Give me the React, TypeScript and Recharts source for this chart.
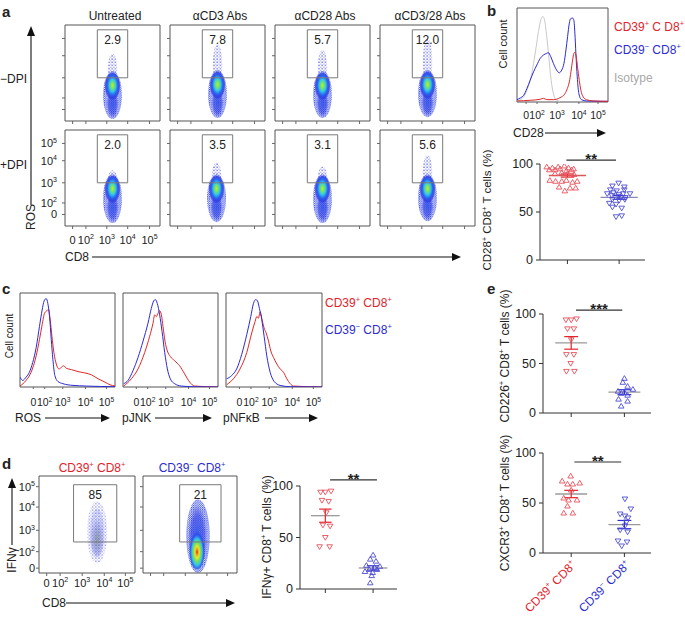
import React from 'react';
import { ComposedChart, ScatterChart, Scatter, Line, XAxis, YAxis, ReferenceArea, ReferenceLine } from 'recharts';

// ---------------- DATA ----------------
// Panel a
const aColumns = ['Untreated', 'αCD3 Abs', 'αCD28 Abs', 'αCD3/28 Abs'];
const aGateValues = ['2.9', '7.8', '5.7', '12.0', '2.0', '3.5', '3.1', '5.6'];
const flowTickLabels = ['0', '10^2', '10^3', '10^4', '10^5'];
const aXTicks = [8, 22, 44, 66, 89];
const aYTicks = [12, 24, 45, 68, 86];
const aGate = [34, 66, 45, 95];
const aCloudCenterX = [50, 50, 50, 50, 50, 49, 50, 50];
const aCloudCoreY = [37, 38, 37, 38, 39, 39, 39, 39];
const aCloudTop = [70, 80, 74, 86, 58, 66, 62, 74];
const aCloudBottom = [2, 3, 3, 4, 3, 4, 3, 5];

// Panel b histogram (x in display units 0-100, y = % of max)
const bHistTicks = [10, 22, 44, 68, 89];
const bIsotype: [number, number][] = [[0, 1.1], [7.3, 5.4], [10.9, 12.5], [14.5, 23.2], [18.2, 41.1], [21.1, 58.9], [23.6, 75], [26.2, 87.5], [28.4, 91], [30.2, 87.5], [32.7, 69.6], [35.3, 44.6], [37.5, 23.2], [40, 8.9], [42.9, 2.5], [47.3, 0.7]];
const bNeg: [number, number][] = [[0, 2.5], [3.6, 4.3], [7.3, 7.1], [10.9, 14.3], [14.5, 23.2], [18.2, 32.1], [21.8, 39.3], [25.5, 46.4], [29.1, 50], [32.7, 51.8], [34.5, 52.5], [37.1, 48.2], [40, 41.1], [43.6, 33.9], [46.5, 31.1], [49.1, 33.9], [51.6, 41.1], [53.8, 55.4], [55.6, 69.6], [57.5, 83.9], [58.9, 88.6], [61.1, 89.3], [62.5, 86.8], [63.6, 73.2], [64.7, 51.8], [66.2, 26.8], [68, 8.9], [70.9, 2.5], [76.4, 1.1], [100, 0.7]];
const bPos: [number, number][] = [[0, 1.1], [14.5, 1.8], [25.5, 2.9], [29.1, 3.9], [32.7, 2.5], [40, 2.5], [47.3, 4.6], [52.7, 8.9], [55.3, 14.3], [57.5, 21.4], [59.3, 32.1], [61.1, 44.6], [62.5, 51.8], [63.6, 52.9], [65.1, 48.2], [66.5, 37.5], [68.4, 23.2], [70.2, 12.5], [72.7, 5.4], [76.4, 2.5], [83.6, 1.1], [100, 0.7]];

// Panel b dot plot (CD28+ % of CD8+)
const bPosValues = [97, 96, 97, 98, 96, 95, 94, 94, 95, 93, 94, 90, 91, 90, 89, 83, 82, 82, 83, 81, 82, 76, 72, 75, 75];
const bPosJitter = [-0.40, -0.29, -0.18, -0.06, 0.02, 0.12, -0.35, -0.24, -0.14, -0.02, 0.08, -0.24, -0.11, 0, 0.13, -0.34, -0.23, -0.11, -0.02, 0.1, 0.19, -0.16, -0.05, 0.05, 0.16];
const bNegValues = [80, 77, 76, 73, 72, 73, 69, 70, 68, 69, 69, 67, 66, 65, 63, 62, 63, 59, 58, 55, 54, 45, 46];
const bNegJitter = [-0.01, -0.13, 0.10, -0.17, -0.05, 0.10, -0.23, -0.11, -0.01, 0.08, 0.21, -0.14, -0.01, 0.12, -0.13, 0, 0.11, -0.19, -0.06, -0.13, 0.05, -0.06, 0.05];

// Panel c histograms
const cTicks = [14, 26, 45, 69, 91];
const cRosNeg: [number, number][] = [[0, 10.5], [2.8, 7], [6.4, 10.5], [9.9, 15.7], [13.4, 26.1], [17, 41.8], [20.5, 64.5], [23.3, 81.9], [25.4, 91.6], [27.6, 94.1], [29.3, 88.9], [31.1, 74.9], [32.9, 50.5], [34.6, 29.6], [36.7, 12.2], [39.9, 5.9], [45.2, 3.5], [55.8, 1.7], [70, 1], [100, 0.3]];
const cRosPos: [number, number][] = [[0, 1], [6.4, 7], [11.7, 15.7], [17, 33.1], [20.5, 50.5], [23.3, 66.2], [25.8, 78.4], [28.3, 81.2], [30, 82.6], [31.8, 71.4], [33.6, 54], [35.7, 36.6], [38.2, 24.4], [41, 19.2], [43.5, 20.9], [46, 22.6], [48.8, 19.9], [54.1, 18.5], [61.1, 16.4], [68.2, 15], [75.3, 12.9], [82.3, 8.7], [89.4, 5.2], [94.7, 2.4], [100, 1]];
const cJnkNeg: [number, number][] = [[0.7, 3.5], [5.3, 7], [10.5, 17.4], [15.8, 31.4], [21.1, 48.8], [26.3, 67.9], [29.8, 83.6], [32.3, 91.6], [34, 93], [36.1, 88.9], [38.6, 76.7], [41.1, 59.2], [43.9, 36.6], [46.7, 19.2], [49.8, 8.7], [54.4, 3.5], [61.4, 1], [73.7, 0.3], [100, 0]];
const cJnkPos: [number, number][] = [[0.7, 1], [8.8, 8.7], [15.8, 19.2], [22.8, 36.6], [28.1, 54], [31.6, 67.9], [33.3, 76.7], [35.1, 74.9], [36.8, 78.4], [38.6, 81.2], [40.4, 76.7], [42.1, 64.5], [44.2, 48.8], [46.7, 38.3], [49.8, 32.4], [54.4, 27.9], [59.6, 22.6], [64.9, 13.9], [70.2, 5.2], [75.4, 1], [100, 0]];
const cNfkbNeg: [number, number][] = [[0.7, 8.7], [5.9, 12.2], [11.1, 19.2], [16.4, 34.8], [21.6, 55.7], [25.8, 74.9], [28.6, 88.9], [31, 93], [32.8, 91.6], [34.8, 83.6], [37.3, 71.4], [39.7, 54], [42.5, 33.1], [46, 15.7], [50.2, 5.9], [56.4, 1.7], [66.9, 0.3], [100, 0]];
const cNfkbPos: [number, number][] = [[0.7, 2.4], [7.7, 8.7], [14.6, 19.2], [21.6, 36.6], [26.8, 57.5], [30.3, 69.7], [32.1, 75], [33.8, 73.2], [35.5, 80.1], [37.6, 71.4], [39.7, 62.7], [41.8, 57.5], [44.3, 48.8], [46.7, 38.3], [49.5, 31.4], [53, 24.4], [56.4, 19.2], [59.9, 15.7], [63.4, 8.7], [66.9, 3.5], [70.4, 1], [100, 0]];
const cMarkers = ['ROS', 'pJNK', 'pNFκB'];

// Panel d
const dXTicks = [8, 22, 45, 68, 90];
const dYTicks = [5, 22, 44, 68, 89];
const dGateValues = ['85', '21'];
const dGates = [[36, 81, 32, 91], [39, 83, 32, 91]];
const dPosCloud = [[50, 71, 10, 74], [53, 68, 18, 62]];
const dNegCloud = [[46, 71, 0, 76], [48, 68, 2, 70], [49, 66, 4, 46]];
const dPosValues = [94, 94, 95, 86, 85, 74, 62, 61, 50, 41, 41];
const dPosJitter = [-0.1, 0, 0.12, -0.07, 0.07, 0.02, -0.05, 0.1, 0, -0.12, 0.09];
const dNegValues = [33, 29, 27, 23, 22, 21, 19, 19, 17, 16, 13, 6];
const dNegJitter = [0, -0.06, 0.06, -0.14, 0.14, 0.03, -0.08, 0.08, -0.17, -0.01, -0.03, -0.06];

// Panel e
const eCd226PosValues = [94, 94, 95, 85, 85, 74, 59, 59, 50, 42, 42];
const eCd226PosJitter = [-0.1, 0.0, 0.1, -0.07, 0.05, 0.0, -0.09, 0.05, -0.01, -0.09, 0.06];
const eCd226NegValues = [35, 31, 27, 24, 22, 21, 20, 18, 14, 12, 7];
const eCd226NegJitter = [0, -0.03, 0.06, 0.16, -0.12, 0.0, -0.06, 0.06, -0.11, 0.06, -0.06];
const eCxcr3PosValues = [77, 72, 69, 69, 70, 63, 55, 53, 53, 47, 40, 40];
const eCxcr3PosJitter = [-0.01, -0.17, -0.07, 0.03, 0.16, 0, -0.14, -0.05, 0.11, -0.07, -0.14, 0.03];
const eCxcr3NegValues = [54, 44, 39, 37, 35, 31, 27, 23, 21, 12, 11, 7];
const eCxcr3NegJitter = [0.01, 0.12, -0.08, 0.01, 0.07, 0.04, 0.01, -0.08, 0.06, -0.12, 0.05, -0.05];

const dotYTicks = [0, 50, 100];

// ---------------- STYLE ----------------
const FONT = '"Liberation Sans", Arial, Helvetica, sans-serif';
const RED = '#e3232c';
const BLUE = '#2c2cd0';
const PT_RED = '#e8505a';
const PT_BLUE = '#4d4dd4';
const LINE_RED = '#e02828';
const LINE_BLUE = '#2a2ad8';
const ISO = '#c9c9c9';

// ---------------- HELPERS ----------------
const NoTick = () => <g />;

function supTick(ticks: number[], labels: string[], side: 'x' | 'y', fs: number, dy: number) {
  return (props: any) => {
    const { x, y, payload } = props;
    const i = ticks.indexOf(payload.value);
    const lab = i >= 0 ? labels[i] : '';
    const [base, exp] = lab.split('^');
    return (
      <text x={x} y={y + dy} textAnchor={side === 'x' ? 'middle' : 'end'} fontSize={fs} fill="#222">
        {base}
        {exp ? <tspan dy={-fs * 0.42} fontSize={fs * 0.64}>{exp}</tspan> : null}
      </text>
    );
  };
}

const ellipseShape = (p: any) => {
  const w = Math.abs(p.width);
  const h = Math.abs(p.height);
  const x = Math.min(p.x, p.x + p.width);
  const y = Math.min(p.y, p.y + p.height);
  return <ellipse cx={x + w / 2} cy={y + h / 2} rx={w / 2} ry={h / 2} fill={p.fill} fillOpacity={p.fillOpacity} />;
};

type Layer = { x1: number; x2: number; y1: number; y2: number; fill: string; op: number };

function aLayers(cx: number, cy: number, top: number, bottom: number): Layer[] {
  return [
    { x1: cx - 5, x2: cx + 5, y1: cy, y2: top, fill: 'url(#dotsSparse)', op: 1 },
    { x1: cx - 10, x2: cx + 10, y1: bottom, y2: cy + 15, fill: 'url(#dotsBlue)', op: 0.9 },
    { x1: cx - 6, x2: cx + 6, y1: bottom + 1, y2: cy - 4, fill: 'url(#gradBlue)', op: 0.9 },
    { x1: cx - 8.5, x2: cx + 8.5, y1: cy - 18, y2: cy + 13, fill: 'url(#gradDens)', op: 1 },
  ];
}

function FlowPlot(props: any) {
  const { bx, by, bw, bh, xTicks, yTicks, showX, showY, xdy, ym, gate, gateText, layers } = props;
  const YW = 40, XH = 24, MT = 2, MR = 2;
  return (
    <div style={{ position: 'absolute', left: bx - YW, top: by - MT }}>
      <ComposedChart width={YW + bw + MR} height={MT + bh + XH} margin={{ top: MT, right: MR, left: 0, bottom: 0 }}>
        <XAxis type="number" dataKey="x" domain={[0, 100]} ticks={xTicks} interval={0} height={XH} axisLine={false}
          tickLine={{ stroke: '#666' }} tickSize={3} tick={showX ? supTick(xTicks, flowTickLabels, 'x', 11, xdy) : NoTick} allowDataOverflow />
        <YAxis type="number" domain={[0, 100]} ticks={yTicks} interval={0} width={YW} axisLine={false}
          tickLine={{ stroke: '#666' }} tickSize={3} tickMargin={ym} tick={showY ? supTick(yTicks, flowTickLabels, 'y', 11, 4) : NoTick} allowDataOverflow />
        {layers.map((l: Layer, i: number) => (
          <ReferenceArea key={i} x1={l.x1} x2={l.x2} y1={l.y1} y2={l.y2} fill={l.fill} fillOpacity={l.op} stroke="none" ifOverflow="hidden" shape={ellipseShape} />
        ))}
        <ReferenceArea x1={gate[0]} x2={gate[1]} y1={gate[2]} y2={gate[3]} fill="none" stroke="#7a7a7a" strokeWidth={1} fillOpacity={0}
          label={{ value: gateText, position: 'insideTop', offset: 6, fontSize: 12, fill: '#222' }} />
        <ReferenceArea x1={0} x2={100} y1={0} y2={100} fill="none" fillOpacity={0} stroke="#555" strokeWidth={1} />
      </ComposedChart>
    </div>
  );
}

function Hist(props: any) {
  const { bx, by, bw, bh, series, xTicks, xdy } = props;
  const XH = 24, M = 1;
  return (
    <div style={{ position: 'absolute', left: bx - M, top: by - M }}>
      <ComposedChart width={bw + 2 * M} height={bh + M + XH} margin={{ top: M, right: M, left: M, bottom: 0 }}>
        <XAxis type="number" dataKey="x" domain={[0, 100]} ticks={xTicks} interval={0} height={XH} axisLine={false}
          tickLine={{ stroke: '#666' }} tickSize={2} tick={supTick(xTicks, flowTickLabels, 'x', 10.5, xdy)} allowDataOverflow />
        <YAxis hide type="number" domain={[0, 100]} allowDataOverflow />
        {series.map((s: any, i: number) => (
          <Line key={i} data={s.data.map((p: [number, number]) => ({ x: p[0], y: p[1] }))} dataKey="y" type="monotone"
            stroke={s.color} strokeWidth={1} dot={false} isAnimationActive={false} />
        ))}
        <ReferenceArea x1={0} x2={100} y1={0} y2={100} fill="none" fillOpacity={0} stroke="#555" strokeWidth={1} />
      </ComposedChart>
    </div>
  );
}

const tri = (color: string, up: boolean) => (p: any) => {
  const { cx, cy } = p;
  const d = up
    ? `M${cx},${cy - 2.7} L${cx + 2.8},${cy + 2} L${cx - 2.8},${cy + 2} Z`
    : `M${cx},${cy + 2.7} L${cx + 2.8},${cy - 2} L${cx - 2.8},${cy - 2} Z`;
  return <path d={d} fill="none" stroke={color} strokeWidth={0.9} />;
};

function stats(v: number[]) {
  const n = v.length;
  const m = v.reduce((a, b) => a + b, 0) / n;
  const sd = Math.sqrt(v.reduce((a, b) => a + (b - m) * (b - m), 0) / (n - 1));
  return { m, se: sd / Math.sqrt(n) };
}

function DotPlot(props: any) {
  const { bx, by, bw, bh, groups, sig, meanHalf } = props;
  const YW = 34, XH = 10, MT = 18, MR = 4;
  const sigLabel = (lp: any) => {
    const vb = lp.viewBox || {};
    return (
      <text x={(vb.x || 0) + (vb.width || 0) / 2} y={(vb.y || 0) + 4} textAnchor="middle" fontSize={15} fontWeight="bold" fill="#222">{sig.text}</text>
    );
  };
  return (
    <div style={{ position: 'absolute', left: bx - YW, top: by - MT }}>
      <ScatterChart width={YW + bw + MR} height={MT + bh + XH} margin={{ top: MT, right: MR, left: 0, bottom: 0 }}>
        <XAxis type="number" dataKey="x" domain={[-0.53, 1.5]} ticks={[0, 1]} interval={0} tick={NoTick} tickSize={4}
          height={XH} axisLine={{ stroke: '#333' }} tickLine={{ stroke: '#333' }} allowDataOverflow />
        <YAxis type="number" dataKey="y" domain={[0, 100]} ticks={dotYTicks} interval={0} width={YW} tickSize={4} tickMargin={3}
          tick={{ fontSize: 12.5, fill: '#222' }} axisLine={{ stroke: '#333' }} tickLine={{ stroke: '#333' }} allowDataOverflow />
        {groups.map((g: any, gi: number) => (
          <Scatter key={gi} data={g.values.map((v: number, i: number) => ({ x: gi + g.jitter[i], y: v }))}
            shape={tri(g.color, g.up)} isAnimationActive={false} />
        ))}
        {groups.map((g: any, gi: number) => {
          const { m, se } = stats(g.values);
          return (
            <React.Fragment key={'s' + gi}>
              <ReferenceLine segment={[{ x: gi - meanHalf, y: m }, { x: gi + meanHalf, y: m }]} stroke={g.meanColor} strokeWidth={1.3} ifOverflow="visible" />
              <ReferenceLine segment={[{ x: gi, y: m - se }, { x: gi, y: m + se }]} stroke={g.semColor} strokeWidth={1.2} ifOverflow="visible" />
              <ReferenceLine segment={[{ x: gi - 0.13, y: m + se }, { x: gi + 0.13, y: m + se }]} stroke={g.semColor} strokeWidth={1.2} ifOverflow="visible" />
              <ReferenceLine segment={[{ x: gi - 0.13, y: m - se }, { x: gi + 0.13, y: m - se }]} stroke={g.semColor} strokeWidth={1.2} ifOverflow="visible" />
            </React.Fragment>
          );
        })}
        <ReferenceLine segment={[{ x: sig.x1, y: sig.y }, { x: sig.x2, y: sig.y }]} stroke="#333" strokeWidth={1.2} ifOverflow="visible" label={sigLabel} />
      </ScatterChart>
    </div>
  );
}

function T({ x, y, s = 12, c = '#222', a = 'middle', r = 0, b = false, children }: any) {
  const tx = a === 'middle' ? '-50%' : a === 'end' ? '-100%' : '0%';
  const origin = a === 'end' ? '100% 50%' : a === 'start' ? '0% 50%' : '50% 50%';
  return (
    <div style={{
      position: 'absolute', left: x, top: y, fontSize: s, color: c, fontWeight: b ? 'bold' : 'normal', lineHeight: 1,
      whiteSpace: 'nowrap', transform: `translate(${tx}, -50%) rotate(${r}deg)`, transformOrigin: origin,
    }}>{children}</div>
  );
}

const S = ({ children }: any) => <span style={{ fontSize: '0.62em', position: 'relative', top: '-0.62em' }}>{children}</span>;

const Pos = () => <>CD39<S>+</S> CD8<S>+</S></>;
const Neg = () => <>CD39<S>−</S> CD8<S>+</S></>;

// ---------------- LAYOUT ----------------
const A_LEFT = [65, 170, 275, 380];
const A_TOP = [25, 130];

export default function App() {
  const sigB = { x1: -0.02, x2: 0.94, y: 104, text: '**' };
  const sigD = { x1: 0.1, x2: 1.08, y: 106, text: '**' };
  const sigE1 = { x1: 0.09, x2: 0.96, y: 104, text: '***' };
  const sigE2 = { x1: 0.06, x2: 0.94, y: 91, text: '**' };
  return (
    <div style={{ position: 'absolute', left: 0, top: 0, width: 685, height: 617, background: '#fff', fontFamily: FONT, color: '#222', overflow: 'hidden' }}>
      <svg width="0" height="0" style={{ position: 'absolute' }}>
        <defs>
          <pattern id="dotsBlue" width="2.2" height="2.2" patternUnits="userSpaceOnUse">
            <circle cx="0.55" cy="0.55" r="0.7" fill="#1f2ce0" />
            <circle cx="1.65" cy="1.65" r="0.6" fill="#3050ee" />
          </pattern>
          <pattern id="dotsSparse" width="3.2" height="3.2" patternUnits="userSpaceOnUse">
            <circle cx="0.8" cy="0.9" r="0.6" fill="#2a2ae0" />
            <circle cx="2.4" cy="2.5" r="0.5" fill="#4a5aee" />
          </pattern>
          <radialGradient id="gradDens" cx="50%" cy="42%" r="50%">
            <stop offset="0%" stopColor="#b4f02c" />
            <stop offset="20%" stopColor="#7ee25a" />
            <stop offset="40%" stopColor="#33c9e6" />
            <stop offset="65%" stopColor="#2a62f0" />
            <stop offset="85%" stopColor="#2a36e0" stopOpacity="0.75" />
            <stop offset="100%" stopColor="#2a30e0" stopOpacity="0" />
          </radialGradient>
          <radialGradient id="gradBlue" cx="50%" cy="50%" r="50%">
            <stop offset="0%" stopColor="#2b4fe8" stopOpacity="0.95" />
            <stop offset="70%" stopColor="#2b3ae4" stopOpacity="0.65" />
            <stop offset="100%" stopColor="#2b2fe0" stopOpacity="0" />
          </radialGradient>
          <radialGradient id="gradHot" cx="50%" cy="58%" r="50%">
            <stop offset="0%" stopColor="#e8231e" />
            <stop offset="14%" stopColor="#f09a20" />
            <stop offset="28%" stopColor="#e6e632" />
            <stop offset="45%" stopColor="#7ee050" />
            <stop offset="65%" stopColor="#30c8e0" />
            <stop offset="85%" stopColor="#2a4ef0" stopOpacity="0.8" />
            <stop offset="100%" stopColor="#2a2ee0" stopOpacity="0" />
          </radialGradient>
          <radialGradient id="gradDark" cx="50%" cy="62%" r="50%">
            <stop offset="0%" stopColor="#4a6a4a" stopOpacity="0.8" />
            <stop offset="50%" stopColor="#3a4890" stopOpacity="0.45" />
            <stop offset="100%" stopColor="#2a30d0" stopOpacity="0" />
          </radialGradient>
        </defs>
      </svg>

      {/* Panel a */}
      {aGateValues.map((g, i) => {
        const row = Math.floor(i / 4), col = i % 4;
        return (
          <FlowPlot key={i} bx={A_LEFT[col]} by={A_TOP[row]} bw={95} bh={96} xTicks={aXTicks} yTicks={aYTicks}
            showX={row === 1 && col === 0} showY={row === 1 && col === 0} xdy={13} ym={5}
            gate={aGate} gateText={g} layers={aLayers(aCloudCenterX[i], aCloudCoreY[i], aCloudTop[i], aCloudBottom[i])} />
        );
      })}

      {/* Panel b histogram */}
      <Hist bx={517} by={8} bw={91} bh={94} xTicks={bHistTicks} xdy={13}
        series={[{ data: bIsotype, color: ISO }, { data: bNeg, color: LINE_BLUE }, { data: bPos, color: LINE_RED }]} />

      {/* Panel b dot plot */}
      <DotPlot bx={540} by={164} bw={105} bh={96} meanHalf={0.36} sig={sigB}
        groups={[
          { values: bPosValues, jitter: bPosJitter, color: PT_RED, up: true, meanColor: '#d65a5a', semColor: RED },
          { values: bNegValues, jitter: bNegJitter, color: PT_BLUE, up: false, meanColor: '#8a8ab8', semColor: BLUE },
        ]} />

      {/* Panel c */}
      <Hist bx={20} by={293} bw={95} bh={94} xTicks={cTicks} xdy={15} series={[{ data: cRosPos, color: LINE_RED }, { data: cRosNeg, color: LINE_BLUE }]} />
      <Hist bx={123} by={293} bw={95} bh={94} xTicks={cTicks} xdy={15} series={[{ data: cJnkPos, color: LINE_RED }, { data: cJnkNeg, color: LINE_BLUE }]} />
      <Hist bx={226} by={293} bw={96} bh={94} xTicks={cTicks} xdy={15} series={[{ data: cNfkbPos, color: LINE_RED }, { data: cNfkbNeg, color: LINE_BLUE }]} />

      {/* Panel d flow */}
      <FlowPlot bx={39} by={476} bw={96} bh={97} xTicks={dXTicks} yTicks={dYTicks} showX showY xdy={9} ym={1}
        gate={dGates[0]} gateText={dGateValues[0]}
        layers={[
          { x1: dPosCloud[0][0], x2: dPosCloud[0][1], y1: dPosCloud[0][2], y2: dPosCloud[0][3], fill: 'url(#dotsSparse)', op: 0.75 },
          { x1: dPosCloud[0][0] + 3, x2: dPosCloud[0][1] - 3, y1: dPosCloud[0][2] + 6, y2: dPosCloud[0][3] - 8, fill: 'url(#dotsBlue)', op: 0.3 },
          { x1: dPosCloud[1][0], x2: dPosCloud[1][1], y1: dPosCloud[1][2], y2: dPosCloud[1][3], fill: 'url(#gradDark)', op: 0.6 },
        ]} />
      <FlowPlot bx={143} by={476} bw={94} bh={97} xTicks={dXTicks} yTicks={dYTicks} showX={false} showY={false} xdy={9} ym={1}
        gate={dGates[1]} gateText={dGateValues[1]}
        layers={[
          { x1: dNegCloud[0][0], x2: dNegCloud[0][1], y1: dNegCloud[0][2], y2: dNegCloud[0][3], fill: 'url(#dotsBlue)', op: 0.9 },
          { x1: dNegCloud[1][0], x2: dNegCloud[1][1], y1: dNegCloud[1][2], y2: dNegCloud[1][3], fill: 'url(#gradBlue)', op: 0.9 },
          { x1: dNegCloud[2][0], x2: dNegCloud[2][1], y1: dNegCloud[2][2], y2: dNegCloud[2][3], fill: 'url(#gradHot)', op: 1 },
        ]} />

      {/* Panel d dot plot */}
      <DotPlot bx={300} by={486} bw={97} bh={103} meanHalf={0.3} sig={sigD}
        groups={[
          { values: dPosValues, jitter: dPosJitter, color: PT_RED, up: false, meanColor: '#9a9a9a', semColor: RED },
          { values: dNegValues, jitter: dNegJitter, color: PT_BLUE, up: true, meanColor: '#9a9a9a', semColor: BLUE },
        ]} />

      {/* Panel e */}
      <DotPlot bx={543} by={314} bw={108} bh={99} meanHalf={0.3} sig={sigE1}
        groups={[
          { values: eCd226PosValues, jitter: eCd226PosJitter, color: PT_RED, up: false, meanColor: '#9a9a9a', semColor: RED },
          { values: eCd226NegValues, jitter: eCd226NegJitter, color: PT_BLUE, up: true, meanColor: '#9a9a9a', semColor: BLUE },
        ]} />
      <DotPlot bx={543} by={453} bw={108} bh={100} meanHalf={0.3} sig={sigE2}
        groups={[
          { values: eCxcr3PosValues, jitter: eCxcr3PosJitter, color: PT_RED, up: true, meanColor: '#9a9a9a', semColor: RED },
          { values: eCxcr3NegValues, jitter: eCxcr3NegJitter, color: PT_BLUE, up: false, meanColor: '#9a9a9a', semColor: BLUE },
        ]} />

      {/* Arrows */}
      <svg width={685} height={617} style={{ position: 'absolute', left: 0, top: 0, pointerEvents: 'none' }}>
        <g stroke="#111" strokeWidth={1.1}>
          <line x1={31} y1={205} x2={31} y2={35} />
          <line x1={92} y1={257} x2={452} y2={257} />
          <line x1={545} y1={133} x2={597} y2={133} />
          <line x1={45} y1={418} x2={101} y2={418} />
          <line x1={155} y1={418} x2={203} y2={418} />
          <line x1={265} y1={418} x2={309} y2={418} />
          <line x1={12} y1={545} x2={12} y2={487} />
          <line x1={66} y1={603} x2={226} y2={603} />
        </g>
        <g fill="#111">
          <polygon points="27,36 35,36 31,26" />
          <polygon points="452,253 452,261 461,257" />
          <polygon points="597,129 597,137 606,133" />
          <polygon points="101,414 101,422 110,418" />
          <polygon points="203,414 203,422 212,418" />
          <polygon points="309,414 309,422 318,418" />
          <polygon points="8,488 16,488 12,478" />
          <polygon points="226,599 226,607 235,603" />
        </g>
      </svg>

      {/* Texts: panel a */}
      <T x={2} y={11} s={15} b a="start">a</T>
      {aColumns.map((c, i) => <T key={c} x={A_LEFT[i] + 50} y={16}>{c}</T>)}
      <T x={27} y={79} a="end">−DPI</T>
      <T x={27} y={165} a="end">+DPI</T>
      <T x={31} y={217} r={-90}>ROS</T>
      <T x={65} y={257} a="start">CD8</T>

      {/* panel b */}
      <T x={487} y={10} s={15} b a="start">b</T>
      <T x={503} y={44} s={11} r={-90}>Cell count</T>
      <T x={614} y={27} a="start" c={RED}>CD39<S>+</S> C D8<S>+</S></T>
      <T x={614} y={50} a="start" c={BLUE}><Neg /></T>
      <T x={614} y={78} a="start" c="#a8a8a8">Isotype</T>
      <T x={513} y={133} a="start">CD28</T>
      <T x={488} y={210} s={11.5} r={-90}>CD28<S>+</S> CD8<S>+</S> T cells (%)</T>

      {/* panel c */}
      <T x={2} y={288} s={15} b a="start">c</T>
      <T x={10} y={336} s={10} r={-90}>Cell count</T>
      <T x={325} y={303} a="start" c={RED}><Pos /></T>
      <T x={325} y={330} a="start" c={BLUE}><Neg /></T>
      <T x={15} y={418} a="start">{cMarkers[0]}</T>
      <T x={122} y={418} a="start">{cMarkers[1]}</T>
      <T x={223} y={418} a="start">{cMarkers[2]}</T>

      {/* panel d */}
      <T x={2} y={463} s={15} b a="start">d</T>
      <T x={92} y={468} c={RED}><Pos /></T>
      <T x={192} y={468} c={BLUE}><Neg /></T>
      <T x={12} y={560} r={-90}>IFNγ</T>
      <T x={42} y={603} a="start">CD8</T>
      <T x={267} y={537} r={-90}>IFNγ+ CD8<S>+</S> T cells (%)</T>

      {/* panel e */}
      <T x={487} y={288} s={15} b a="start">e</T>
      <T x={505} y={356} r={-90}>CD226<S>+</S> CD8<S>+</S> T cells (%)</T>
      <T x={505} y={503} r={-90}>CXCR3<S>+</S> CD8<S>+</S> T cells (%)</T>
      <T x={574} y={563} a="end" r={-45} c={RED}><Pos /></T>
      <T x={628} y={563} a="end" r={-45} c={BLUE}><Neg /></T>
    </div>
  );
}
